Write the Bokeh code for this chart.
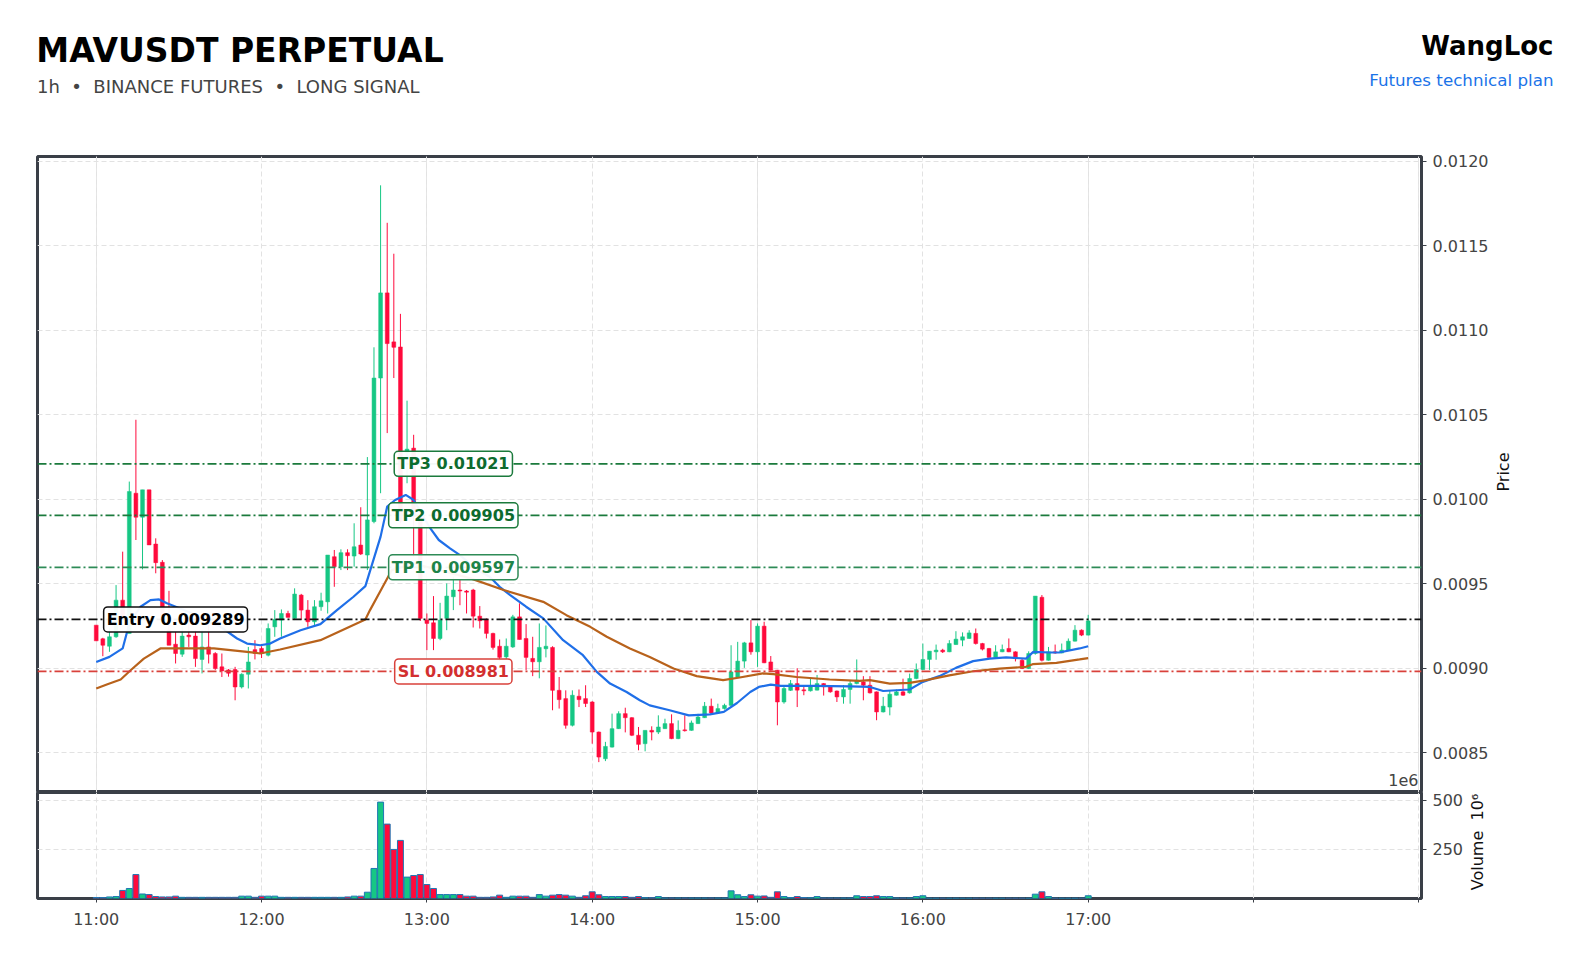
from bokeh.plotting import figure
from bokeh.models import (ColumnDataSource, Range1d, FixedTicker, Span, Label,
                          PrintfTickFormatter, Grid, Div)
from bokeh.layouts import column
from bokeh.embed import file_html
from bokeh.resources import INLINE

# ---------------- data ----------------
opens = [0.009255, 0.009174, 0.009130, 0.009186, 0.009403, 0.009206, 0.010036, 0.009894, 0.010056, 0.009735,
         0.009627, 0.009225, 0.009142, 0.009083, 0.009196, 0.009190, 0.009052, 0.009126, 0.009087, 0.009008,
         0.008990, 0.008992, 0.008889, 0.008964, 0.009110, 0.009117, 0.009077, 0.009245, 0.009285, 0.009324,
         0.009295, 0.009433, 0.009344, 0.009275, 0.009364, 0.009393, 0.009660, 0.009601, 0.009684, 0.009664,
         0.009729, 0.009670, 0.009868, 0.010718, 0.011222, 0.010932, 0.010902, 0.010277, 0.010303, 0.009897,
         0.009285, 0.009269, 0.009176, 0.009295, 0.009423, 0.009463, 0.009457, 0.009463, 0.009308, 0.009289,
         0.009206, 0.009130, 0.009067, 0.009126, 0.009304, 0.009176, 0.009058, 0.009038, 0.009115, 0.009123,
         0.008869, 0.008820, 0.008662, 0.008834, 0.008820, 0.008800, 0.008622, 0.008464, 0.008533, 0.008642,
         0.008731, 0.008707, 0.008603, 0.008553, 0.008632, 0.008622, 0.008642, 0.008672, 0.008583, 0.008635,
         0.008632, 0.008672, 0.008707, 0.008775, 0.008735, 0.008761, 0.008780, 0.008948, 0.009042, 0.009150,
         0.009097, 0.009249, 0.009037, 0.008988, 0.008800, 0.008869, 0.008909, 0.008872, 0.008866, 0.008870,
         0.008909, 0.008890, 0.008865, 0.008830, 0.008874, 0.008909, 0.008919, 0.008899, 0.008860, 0.008741,
         0.008770, 0.008840, 0.008860, 0.008854, 0.008939, 0.008992, 0.009052, 0.009097, 0.009107, 0.009097,
         0.009140, 0.009166, 0.009176, 0.009206, 0.009146, 0.009117, 0.009064, 0.009097, 0.009117, 0.009097,
         0.009047, 0.008998, 0.009087, 0.009420, 0.009047, 0.009097, 0.009090, 0.009107, 0.009160, 0.009225,
         0.009196]
highs = [0.009255, 0.009180, 0.009237, 0.009492, 0.009690, 0.010105, 0.010471, 0.010056, 0.010056, 0.009769,
         0.009640, 0.009458, 0.009215, 0.009245, 0.009285, 0.009225, 0.009225, 0.009275, 0.009095, 0.009087,
         0.008995, 0.009008, 0.008970, 0.009126, 0.009166, 0.009130, 0.009265, 0.009344, 0.009348, 0.009340,
         0.009473, 0.009440, 0.009403, 0.009403, 0.009447, 0.009670, 0.009700, 0.009704, 0.009704, 0.009858,
         0.009953, 0.010250, 0.010900, 0.011859, 0.011637, 0.011454, 0.011098, 0.010584, 0.010382, 0.009900,
         0.009324, 0.009427, 0.009387, 0.009502, 0.009541, 0.009522, 0.009463, 0.009470, 0.009368, 0.009295,
         0.009210, 0.009170, 0.009176, 0.009316, 0.009384, 0.009261, 0.009186, 0.009265, 0.009253, 0.009130,
         0.008948, 0.008869, 0.008869, 0.008874, 0.008899, 0.008805, 0.008625, 0.008564, 0.008731, 0.008745,
         0.008766, 0.008710, 0.008652, 0.008632, 0.008656, 0.008721, 0.008701, 0.008727, 0.008691, 0.008721,
         0.008690, 0.008730, 0.008800, 0.008820, 0.008790, 0.008790, 0.009136, 0.009156, 0.009156, 0.009285,
         0.009265, 0.009275, 0.009072, 0.008990, 0.008900, 0.008930, 0.009000, 0.008900, 0.008940, 0.008960,
         0.008912, 0.008895, 0.008868, 0.008900, 0.008930, 0.009052, 0.008953, 0.008953, 0.008862, 0.008830,
         0.008870, 0.008874, 0.008938, 0.008968, 0.009028, 0.009146, 0.009101, 0.009140, 0.009115, 0.009166,
         0.009219, 0.009212, 0.009225, 0.009235, 0.009150, 0.009120, 0.009136, 0.009140, 0.009176, 0.009100,
         0.009060, 0.009100, 0.009427, 0.009433, 0.009126, 0.009140, 0.009146, 0.009176, 0.009255, 0.009230,
         0.009316]
lows = [0.009162, 0.009071, 0.009097, 0.009180, 0.009285, 0.009206, 0.009759, 0.009585, 0.009730, 0.009562,
        0.009280, 0.009136, 0.009028, 0.009067, 0.009126, 0.009008, 0.008969, 0.009028, 0.008990, 0.008948,
        0.008950, 0.008810, 0.008880, 0.008880, 0.009052, 0.009060, 0.009070, 0.009186, 0.009186, 0.009300,
        0.009285, 0.009285, 0.009245, 0.009245, 0.009340, 0.009324, 0.009482, 0.009581, 0.009581, 0.009601,
        0.009670, 0.009581, 0.009858, 0.010036, 0.010392, 0.010718, 0.009858, 0.010095, 0.009660, 0.009280,
        0.009107, 0.009107, 0.009166, 0.009225, 0.009344, 0.009373, 0.009324, 0.009241, 0.009235, 0.009176,
        0.009110, 0.009043, 0.009050, 0.009120, 0.009170, 0.008988, 0.008953, 0.008940, 0.009064, 0.008751,
        0.008761, 0.008642, 0.008655, 0.008770, 0.008770, 0.008553, 0.008444, 0.008450, 0.008530, 0.008640,
        0.008620, 0.008598, 0.008514, 0.008508, 0.008573, 0.008610, 0.008640, 0.008580, 0.008580, 0.008625,
        0.008630, 0.008670, 0.008705, 0.008730, 0.008730, 0.008755, 0.008775, 0.008945, 0.009002, 0.009080,
        0.009008, 0.009030, 0.008985, 0.008662, 0.008790, 0.008865, 0.008770, 0.008840, 0.008862, 0.008868,
        0.008838, 0.008855, 0.008800, 0.008790, 0.008790, 0.008905, 0.008810, 0.008850, 0.008692, 0.008738,
        0.008721, 0.008838, 0.008836, 0.008850, 0.008935, 0.008990, 0.008990, 0.009050, 0.009090, 0.009095,
        0.009138, 0.009130, 0.009174, 0.009140, 0.009105, 0.009060, 0.009060, 0.009095, 0.009095, 0.009040,
        0.008995, 0.008995, 0.009080, 0.009040, 0.009045, 0.009085, 0.009088, 0.009105, 0.009158, 0.009190,
        0.009194]
closes = [0.009162, 0.009136, 0.009186, 0.009403, 0.009285, 0.010046, 0.009894, 0.010056, 0.009730, 0.009625,
          0.009300, 0.009136, 0.009087, 0.009190, 0.009186, 0.009057, 0.009126, 0.009083, 0.008998, 0.008984,
          0.008970, 0.008889, 0.008964, 0.009037, 0.009087, 0.009087, 0.009235, 0.009289, 0.009324, 0.009301,
          0.009439, 0.009344, 0.009275, 0.009364, 0.009399, 0.009670, 0.009601, 0.009684, 0.009666, 0.009719,
          0.009676, 0.009878, 0.010718, 0.011222, 0.010922, 0.010900, 0.009870, 0.010297, 0.009897, 0.009295,
          0.009265, 0.009176, 0.009285, 0.009427, 0.009463, 0.009457, 0.009450, 0.009308, 0.009281, 0.009206,
          0.009123, 0.009064, 0.009130, 0.009304, 0.009170, 0.009064, 0.009038, 0.009123, 0.009130, 0.008869,
          0.008814, 0.008662, 0.008840, 0.008814, 0.008791, 0.008622, 0.008474, 0.008537, 0.008642, 0.008731,
          0.008707, 0.008603, 0.008549, 0.008632, 0.008622, 0.008652, 0.008672, 0.008583, 0.008632, 0.008630,
          0.008676, 0.008711, 0.008775, 0.008735, 0.008761, 0.008780, 0.008978, 0.009042, 0.009150, 0.009097,
          0.009249, 0.009032, 0.008988, 0.008800, 0.008880, 0.008909, 0.008870, 0.008866, 0.008890, 0.008909,
          0.008890, 0.008860, 0.008830, 0.008874, 0.008909, 0.008929, 0.008899, 0.008854, 0.008741, 0.008775,
          0.008846, 0.008860, 0.008840, 0.008939, 0.008992, 0.009052, 0.009101, 0.009107, 0.009097, 0.009146,
          0.009172, 0.009186, 0.009209, 0.009146, 0.009113, 0.009064, 0.009097, 0.009111, 0.009097, 0.009057,
          0.008998, 0.009087, 0.009427, 0.009047, 0.009097, 0.009090, 0.009107, 0.009160, 0.009225, 0.009196,
          0.009280]
volumes = [5, 5, 8, 10, 41, 51, 122, 23, 20, 10,
           8, 8, 12, 6, 6, 6, 6, 6, 6, 6,
           6, 6, 12, 12, 6, 12, 12, 12, 6, 6,
           6, 6, 6, 6, 6, 6, 6, 6, 8, 12,
           12, 32, 153, 491, 379, 250, 296, 109, 117, 122,
           71, 51, 20, 20, 20, 20, 12, 12, 6, 6,
           8, 17, 6, 12, 12, 12, 6, 20, 12, 17,
           20, 17, 12, 6, 14, 34, 19, 10, 10, 10,
           10, 6, 10, 4, 4, 10, 3, 3, 3, 3,
           3, 3, 3, 3, 3, 3, 39, 19, 10, 19,
           12, 13, 6, 34, 10, 5, 10, 5, 4, 10,
           3, 3, 3, 3, 3, 14, 10, 10, 14, 10,
           10, 3, 3, 3, 10, 14, 2, 2, 2, 2,
           2, 2, 2, 2, 2, 2, 2, 2, 2, 2,
           2, 2, 22, 34, 10, 2, 2, 2, 2, 2,
           14]

hour_ticks = [0, 25, 50, 75, 100, 125, 150, 175, 200]
hour_labels = ["11:00", "12:00", "13:00", "14:00", "15:00", "16:00", "17:00", "", ""]
price_ticks = [0.0085, 0.0090, 0.0095, 0.0100, 0.0105, 0.0110, 0.0115, 0.0120]
volume_ticks = [250, 500]

ema_fast_x = [0, 2, 4, 5, 6.7, 8.2, 9.5, 10.7, 14, 16.2, 18.8, 21.3, 22.8, 24.8, 26.3, 27.8, 30.9,
              33.9, 36.4, 38.9, 40.7, 43, 44, 45.2, 46.8, 48, 50.5, 51.8, 53.5, 55, 57.7, 59.5, 61,
              62.6, 65, 67.6, 70.6, 73.6, 75.7, 77.7, 80.2, 82.2, 83.7, 86.7, 89.6, 92.8, 94.9, 96.9,
              98.9, 100.2, 102, 103.5, 108.5, 114, 117, 119, 123, 125, 127.5, 130, 132.6, 135.1,
              137.6, 140.6, 141.7, 144.1, 145.6, 148.7, 150]
ema_fast = [0.009037, 0.009067, 0.009117, 0.009265, 0.009364, 0.009403, 0.009407, 0.009384, 0.009333,
            0.009285, 0.009245, 0.009176, 0.009146, 0.009136, 0.009146, 0.009176, 0.009225, 0.009261,
            0.009344, 0.009423, 0.009486, 0.009779, 0.009957, 0.009996, 0.010026, 0.009996, 0.009829,
            0.009759, 0.009710, 0.009670, 0.009580, 0.009541, 0.009482, 0.009433, 0.009364, 0.009295,
            0.009166, 0.009077, 0.008978, 0.008909, 0.008859, 0.008810, 0.008780, 0.008751, 0.008721,
            0.008727, 0.008741, 0.008794, 0.008859, 0.008889, 0.008903, 0.008895, 0.008895, 0.008893,
            0.008889, 0.008865, 0.008874, 0.008919, 0.008953, 0.009002, 0.009042, 0.009057, 0.009064,
            0.009057, 0.009097, 0.009093, 0.009093, 0.009117, 0.009130]
ema_slow_x = [0, 1.7, 3.7, 5.2, 7.2, 9.7, 12.7, 17.8, 22.8, 24.8, 27.8, 33.9, 40.7, 41.4, 43.2, 44.7,
              48, 52, 56.6, 61.6, 67.6, 71.1, 74.7, 77.2, 80.7, 83.7, 87.3, 90.8, 94.8, 97.3, 100.8,
              102.4, 105.9, 110.9, 115.4, 117, 120, 123, 125.5, 129, 132.6, 136.6, 140.6, 141.6, 145.2,
              148.7, 150]
ema_slow = [0.008880, 0.008905, 0.008933, 0.008988, 0.009057, 0.009117, 0.009117, 0.009117, 0.009097,
            0.009087, 0.009111, 0.009166, 0.009289, 0.009344, 0.009473, 0.009581, 0.009620, 0.009580,
            0.009532, 0.009463, 0.009393, 0.009314, 0.009245, 0.009186, 0.009117, 0.009067, 0.008998,
            0.008953, 0.008929, 0.008945, 0.008969, 0.008965, 0.008948, 0.008933, 0.008925, 0.008929,
            0.008909, 0.008913, 0.008929, 0.008958, 0.008982, 0.008998, 0.009008, 0.009024, 0.009032,
            0.009052, 0.009060]

level_names = ["TP3", "TP2", "TP1", "Entry", "SL"]
level_values = [0.01021, 0.009905, 0.009597, 0.009289, 0.008981]
level_texts = ["TP3 0.01021", "TP2 0.009905", "TP1 0.009597", "Entry 0.009289", "SL 0.008981"]
level_label_x = [54, 54, 54, 12, 54]

title_text = "MAVUSDT PERPETUAL"
subtitle_text = "1h  •  BINANCE FUTURES  •  LONG SIGNAL"
brand_text = "WangLoc"
brand_sub_text = "Futures technical plan"
price_label = "Price"
volume_label = "Volume  10⁶"

# ---------------- styling ----------------
GREEN = "#16c784"
RED = "#ff0a3c"
FONT = "DejaVu Sans"
line_colors = ["#1b7a3c", "#1b7a3c", "#2e8b57", "#111111", "#d9413b"]
text_colors = ["#0d6b2e", "#0d6b2e", "#1e8449", "#000000", "#d32f2f"]
W = 1574
BL, FW = 37, 1384          # frame left offset and frame width (shared by all panels)
BR = W - BL - FW
X0, X1 = -8.88, 200.4
H_HDR, H_P, H_V = 148, 644, 156

n = len(opens)
xs = list(range(n))
colors = [GREEN if c >= o else RED for o, c in zip(opens, closes)]
src = ColumnDataSource(dict(
    x=xs, open=opens, high=highs, low=lows, close=closes,
    top=[max(o, c) for o, c in zip(opens, closes)],
    bottom=[min(o, c) for o, c in zip(opens, closes)],
    vol=volumes, color=colors))


# ---------------- HTML texts ----------------
def span(text, left=None, right=None, top=0, size=16, bold=False, color="#000", extra=""):
    pos = f"left:{left}px;" if left is not None else f"right:{right}px;"
    weight = "bold" if bold else "normal"
    return (f'<span style="position:absolute;{pos}top:{top}px;font-size:{size}px;'
            f'font-weight:{weight};line-height:1;color:{color};white-space:pre;'
            f"font-family:'DejaVu Sans';{extra}\">{text}</span>")


html = ('<div style="position:relative;width:%dpx;height:%dpx;margin:0;padding:0;">' % (W, H_HDR)
        + span(title_text, left=36.3, top=33.8, size=33, bold=True, color="#000000")
        + span(subtitle_text, left=37, top=77.5, size=18, color="#444444")
        + span(brand_text, right=20.5, top=33.3, size=26, bold=True, color="#000000")
        + span(brand_sub_text, right=20.5, top=71.8, size=16.7, color="#1a73e8")
        + '</div>')
hdr = Div(text=html, width=W, height=H_HDR, margin=(0, 0, 0, 0))

# rotated axis titles, overlaid from a thin footer element
FOOT_Y = H_HDR + H_P + H_V + 10
rot = "transform:translate(-50%,-50%) rotate(-90deg);z-index:20;"
foot_html = ('<div style="position:relative;width:%dpx;height:4px;margin:0;padding:0;overflow:visible;">' % W
             + span(price_label, left=1504, top=473.5 - FOOT_Y, size=16, color="#111111", extra=rot)
             + span(volume_label, left=1478, top=844 - FOOT_Y, size=16, color="#111111", extra=rot)
             + '</div>')
foot = Div(text=foot_html, width=W, height=4, margin=(0, 0, 0, 0),
           styles={"overflow": "visible", "z-index": "20"})


def style_right_axis(ax):
    ax.major_label_text_font = FONT
    ax.major_label_text_font_size = "16px"
    ax.major_label_text_color = "#444444"
    ax.major_label_standoff = 6
    ax.major_tick_out = 5
    ax.major_tick_in = 0
    ax.minor_tick_out = 0
    ax.minor_tick_in = 0
    ax.major_tick_line_color = "#3a3f47"
    ax.axis_line_color = None


# ---------------- price panel ----------------
p = figure(width=W, height=H_P, x_range=Range1d(X0, X1), y_range=Range1d(0.0082641, 0.0120296),
           x_axis_location=None, y_axis_location="right", toolbar_location=None,
           output_backend="svg", min_border_left=BL, min_border_right=BR,
           min_border_top=8, min_border_bottom=0)
p.border_fill_alpha = 0
p.outline_line_color = "#3a3f47"
p.outline_line_width = 3
p.ygrid.ticker = FixedTicker(ticks=price_ticks)
p.ygrid.grid_line_color = "#e2e2e2"
p.ygrid.grid_line_dash = "5 3"
p.add_layout(Grid(dimension=0, ticker=FixedTicker(ticks=hour_ticks), grid_line_color="#e2e2e2",
                  grid_line_dash="5 3"))
ya = p.yaxis[0]
ya.ticker = FixedTicker(ticks=price_ticks)
ya.formatter = PrintfTickFormatter(format="%.4f")
style_right_axis(ya)

for lv, c in zip(level_values, line_colors):
    p.add_layout(Span(location=lv, dimension="width", line_color=c, line_width=1.6,
                      line_dash="9 3 2 3"))

p.segment(x0="x", y0="low", x1="x", y1="high", color="color", line_width=1, source=src)
p.vbar(x="x", width=0.58, top="top", bottom="bottom", fill_color="color", line_color="color",
       line_width=0.5, source=src)

p.line(ema_fast_x, ema_fast, line_color="#1f6fe8", line_width=2.2)
p.line(ema_slow_x, ema_slow, line_color="#b8621b", line_width=2.2)

for lv, t, lx, lc, tc in zip(level_values, level_texts, level_label_x, line_colors, text_colors):
    p.add_layout(Label(x=lx, y=lv, text=t, text_font=FONT, text_font_size="16px",
                       text_font_style="bold", text_color=tc, text_align="center",
                       text_baseline="middle", background_fill_color="white",
                       background_fill_alpha=0.95, border_line_color=lc, border_line_width=1.5,
                       padding=3, border_radius=4))

p.add_layout(Label(x=X1, y=0.0082641, text="1e6", text_font=FONT, text_font_size="16px",
                   text_color="#444444", text_align="right", text_baseline="bottom",
                   x_offset=-3, y_offset=7))

# ---------------- volume panel ----------------
v = figure(width=W, height=H_V, x_range=p.x_range, y_range=Range1d(0, 540),
           y_axis_location="right", toolbar_location=None, output_backend="svg",
           min_border_left=BL, min_border_right=BR, min_border_top=0, min_border_bottom=50)
v.border_fill_alpha = 0
v.outline_line_color = "#3a3f47"
v.outline_line_width = 3
v.xgrid.ticker = FixedTicker(ticks=hour_ticks)
v.ygrid.ticker = FixedTicker(ticks=volume_ticks)
for g in (v.xgrid[0], v.ygrid[0]):
    g.grid_line_color = "#e2e2e2"
    g.grid_line_dash = "5 3"
v.vbar(x="x", width=0.9, top="vol", bottom=0, fill_color="color", line_color="#1f77b4",
       line_width=1, source=src)

xa = v.xaxis[0]
xa.ticker = FixedTicker(ticks=hour_ticks)
xa.major_label_overrides = {t: lab for t, lab in zip(hour_ticks, hour_labels)}
xa.major_label_text_font = FONT
xa.major_label_text_font_size = "16px"
xa.major_label_text_color = "#444444"
xa.major_label_standoff = 7
xa.major_tick_out = 4
xa.major_tick_in = 0
xa.minor_tick_out = 0
xa.minor_tick_in = 0
xa.major_tick_line_color = "#3a3f47"
xa.axis_line_color = None

va = v.yaxis[0]
va.ticker = FixedTicker(ticks=volume_ticks)
style_right_axis(va)

layout = column(hdr, p, v, foot, spacing=0)
open("out.html", "w").write(file_html(layout, INLINE))
